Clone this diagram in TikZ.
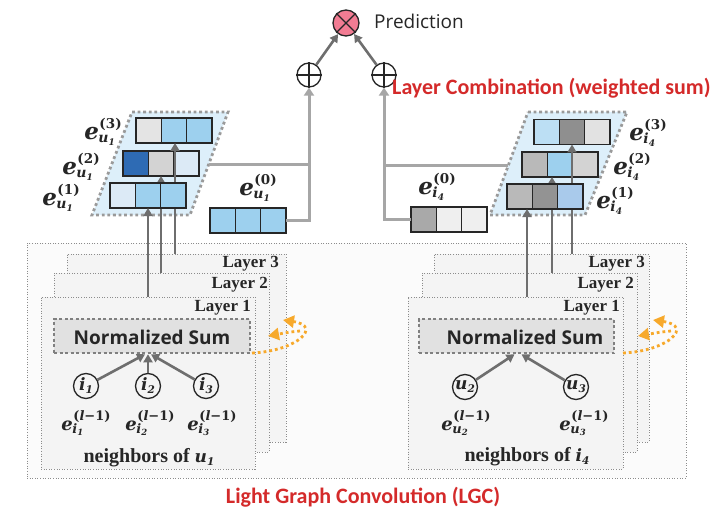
\RequirePackage{fix-cm}
\documentclass[tikz,border=0pt]{standalone}
\usepackage{fontspec}
\usetikzlibrary{arrows.meta,calc,fit}
\newfontfamily\sansf{Open Sans}
\newfontfamily\carl{Carlito}
\newfontfamily\serifb{Liberation Serif}
\newfontfamily\dvs{DejaVu Serif}
\newcommand\dv{\dvs\bfseries\itshape}
\newdimen\labw
% generic label: e, raised superscript, lowered subscript with its own digit
\newcommand\mklab[9]{\hbox{%
  \setbox0=\hbox{\fontsize{#2}{#2}\selectfont\dvs\bfseries #7}%
  \setbox2=\hbox{\fontsize{#3}{#3}\selectfont\dv #8\lower2.5pt\hbox{\fontsize{#4}{#4}\selectfont\dvs\bfseries #9}}%
  \labw=\wd0 \ifdim\wd2>\labw \labw=\wd2 \fi
  \fontsize{#1}{#1}\selectfont\dv e\kern0.5pt
  \rlap{\raise#5\box0}\rlap{\kern-1pt\lower#6\box2}\kern\labw}}
\newcommand\embig[3]{\mklab{23}{13.5}{14}{9}{11pt}{3pt}{(#1)}{#2}{#3}}
\newcommand\emsmall[2]{\mklab{18}{13}{13}{8.5}{10pt}{3pt}{(\textit{l}−1)}{#1}{#2}}
\newcommand\circlab[2]{\hbox{\fontsize{17}{17}\selectfont\dv #1\lower3pt\hbox{\fontsize{10.5}{10.5}\selectfont\dvs\bfseries #2}}}
\definecolor{lb}{HTML}{9DD0EE}
\definecolor{vlb}{HTML}{DCEAF6}
\definecolor{db}{HTML}{2E6BB4}
\definecolor{ga}{HTML}{E4E4E4}
\definecolor{gb}{HTML}{D3D3D3}
\definecolor{rb}{HTML}{BCDFF4}
\definecolor{dg}{HTML}{8F8F8F}
\definecolor{gc}{HTML}{E2E2E2}
\definecolor{mg}{HTML}{B9B9B9}
\definecolor{mgb}{HTML}{939393}
\definecolor{lbb}{HTML}{A9CAEB}
\definecolor{gd}{HTML}{EFEFEF}
\definecolor{mgc}{HTML}{A9A9A9}
\definecolor{stackblue}{HTML}{DDEFFA}
\definecolor{dotgray}{HTML}{9A9A9A}
\definecolor{layerfill}{HTML}{F4F4F4}
\definecolor{outerfill}{HTML}{FBFBFB}
\definecolor{nsfill}{HTML}{E1E1E1}
\definecolor{arrdark}{HTML}{6E6E6E}
\definecolor{arrlight}{HTML}{A6A6A6}
\definecolor{predpink}{HTML}{F27C93}
\definecolor{redtxt}{HTML}{D42A2A}
\definecolor{orng}{HTML}{F7A92B}
\newcommand\emrow[6]{%
  \node[cell,fill=#4] (#1a) at (#2,#3) {};
  \node[cell,fill=#5] (#1b) at (#1a.east) {};
  \node[cell,fill=#6] (#1c) at (#1b.east) {};}
\tikzset{
  cell/.style={draw=black!85, line width=1.3pt, minimum width=25.3pt, minimum height=25pt, inner sep=0pt, outer sep=0pt, anchor=west},
  stackbg/.style={fill=stackblue, draw=dotgray, line width=2.8pt, dash pattern=on 2.8pt off 2.8pt},
  outerbox/.style={draw=black!45, fill=outerfill, line width=0.9pt, dash pattern=on 1pt off 1.6pt, inner sep=0pt},
  layerbox/.style={draw=black!45, fill=layerfill, line width=0.9pt, dash pattern=on 1pt off 1.6pt, inner sep=0pt},
  nsbox/.style={draw=black!50, fill=nsfill, line width=2.6pt, dash pattern=on 3pt off 2.5pt, inner sep=0pt},
  nstext/.style={font=\sansf\bfseries\fontsize{19}{21}\selectfont, text=black!85, inner sep=0pt},
  laylab/.style={font=\serifb\bfseries\fontsize{17}{19}\selectfont, text=black!85, anchor=east, inner sep=0pt},
  neighlab/.style={font=\serifb\bfseries\fontsize{20}{22}\selectfont, text=black!85, inner sep=0pt},
  emlab/.style={text=black!85, inner sep=0pt},
  nb/.style={circle, draw=black!85, line width=1.3pt, minimum size=25pt, inner sep=0pt, text=black!85},
  opl/.style={circle, draw=black!85, line width=1.3pt, minimum size=24pt, inner sep=0pt},
  pred/.style={circle, draw=black!85, fill=predpink, line width=1.3pt, minimum size=26pt, inner sep=0pt},
  darr/.style={draw=arrdark, line width=2.6pt, -{Triangle[length=8pt,width=9pt]}},
  larr/.style={draw=arrlight, line width=3pt, -{Triangle[length=8pt,width=10pt]}},
  lline/.style={draw=arrlight, line width=3pt},
  orarr/.style={draw=orng, line width=2.8pt, dash pattern=on 2.8pt off 3pt, -{Triangle[length=11pt,width=12pt]}},
  redlab/.style={font=\carl\bfseries\fontsize{22}{24}\selectfont, text=redtxt, inner sep=0pt},
}
\begin{document}
\begin{tikzpicture}[x=1pt,y=-1pt]
\useasboundingbox (0,0) rectangle (720,516);
% ---------- outer LGC box and layer stacks
\node[outerbox, fit={(27,243) (686,478)}] (outer) {};
\node[layerbox, fit={(67,254) (286,442)}] (LL3) {};
\node[layerbox, fit={(54,273) (269,452)}] (LL2) {};
\node[layerbox, fit={(41,297) (255,469)}] (LL1) {};
\node[layerbox, fit={(434,254) (649,442)}] (RL3) {};
\node[layerbox, fit={(422,273) (637,452)}] (RL2) {};
\node[layerbox, fit={(408,297) (623,469)}] (RL1) {};
\node[laylab] (tl3) at (279,264) {Layer 3};
\node[laylab] (tl2) at (268,285) {Layer 2};
\node[laylab] (tl1) at (251,308) {Layer 1};
\node[laylab] (tr3) at (645,264) {Layer 3};
\node[laylab] (tr2) at (634,285) {Layer 2};
\node[laylab] (tr1) at (620,308) {Layer 1};
% normalized sum boxes
\node[nsbox, minimum width=196pt, minimum height=34pt] (NSL) at (152,336) {};
\node[nstext] (NSLt) at (152,337) {Normalized Sum};
\node[nsbox, minimum width=195pt, minimum height=34pt] (NSR) at (516.5,336) {};
\node[nstext] (NSRt) at (525,337) {Normalized Sum};
% neighbor nodes
\node[nb] (i1) at (86,386) {\circlab{i}{1}};
\node[nb] (i2) at (148,386) {\circlab{i}{2}};
\node[nb] (i3) at (206,386) {\circlab{i}{3}};
\node[nb] (u2) at (465,387) {\circlab{u}{2}};
\node[nb] (u3) at (576,387) {\circlab{u}{3}};
\draw[darr] (i1) -- ($(NSL.south)+(-7,0)$);
\draw[darr] (i2) -- (i2 |- NSL.south);
\draw[darr] (i3) -- ($(NSL.south)+(-1,0)$);
\draw[darr] (u2) -- ($(NSR.south)+(-2,0)$);
\draw[darr] (u3) -- ($(NSR.south)+(5,0)$);
\node[emlab] (ei1) at (86,423) {\emsmall{i}{1}};
\node[emlab] (ei2) at (150,423) {\emsmall{i}{2}};
\node[emlab] (ei3) at (212,423) {\emsmall{i}{3}};
\node[emlab] (eu2) at (466,423) {\emsmall{u}{2}};
\node[emlab] (eu3) at (584,423) {\emsmall{u}{3}};
\node[neighlab] (nu) at (149,458) {neighbors of \circlab{u}{1}};
\node[neighlab] (ni) at (527,457) {neighbors of \circlab{i}{4}};
% orange propagation arrows
\coordinate (oLa) at (252,353);
\coordinate (oLb) at (283,320);
\coordinate (oLc) at (300,331);
\coordinate (oLd) at (268,336);
\draw[orarr] (oLa) .. controls (297,351) and (323,326) .. (oLb);
\draw[orarr] (oLc) .. controls (290,332) .. (oLd);
\coordinate (oRa) at (623,353);
\coordinate (oRb) at (653,320);
\coordinate (oRc) at (671,331);
\coordinate (oRd) at (638,336);
\draw[orarr] (oRa) .. controls (668,351) and (694,326) .. (oRb);
\draw[orarr] (oRc) .. controls (661,332) .. (oRd);
% ---------- stacked embeddings (left)
\draw[stackbg] (132,112) -- (228,112) -- (190,215) -- (92,215) -- cycle;
\coordinate (aL1) at (148,297);
\coordinate (aL2) at (161,273);
\coordinate (aL3) at (175,254);
\coordinate (aR1) at (527,297);
\coordinate (aR2) at (552,273);
\coordinate (aR3) at (572,254);
\emrow{Lr3}{136}{130.5}{ga}{lb}{lb}
\emrow{Lr2}{123}{163.5}{db}{gb}{vlb}
\draw[darr] (aL3) -- (aL3 |- Lr3b.south);
\draw[darr] (aL2) -- (aL2 |- Lr2b.south);
\emrow{Lr1}{110}{195.5}{vlb}{lb}{lb}
\draw[darr] (aL1) -- (aL1 |- Lr1b.south);
\node[emlab] (lL3) at (103,132) {\embig{3}{u}{1}};
\node[emlab] (lL2) at (81,167) {\embig{2}{u}{1}};
\node[emlab] (lL1) at (61,198) {\embig{1}{u}{1}};
% ---------- stacked embeddings (right)
\draw[stackbg] (528,112) -- (627,112) -- (585,215) -- (490,215) -- cycle;
\emrow{Rr3}{534}{132}{rb}{dg}{gc}
\emrow{Rr2}{522}{164.5}{mg}{lb}{gb}
\draw[darr] (aR3) -- (aR3 |- Rr3b.south);
\draw[darr] (aR2) -- (aR2 |- Rr2b.south);
\emrow{Rr1}{507}{196.5}{mg}{mgb}{lbb}
\draw[darr] (aR1) -- (aR1 |- Rr1a.south);
\node[emlab] (lR3) at (648,133) {\embig{3}{i}{4}};
\node[emlab] (lR2) at (632,167) {\embig{2}{i}{4}};
\node[emlab] (lR1) at (615,201) {\embig{1}{i}{4}};
% ---------- layer-0 embeddings
\emrow{E0L}{210}{220.5}{lb}{lb}{lb}
\emrow{E0R}{411}{219.5}{mgc}{gd}{gd}
\node[emlab] (l0L) at (258,188) {\embig{0}{u}{1}};
\node[emlab] (l0R) at (437,187) {\embig{0}{i}{4}};
% ---------- layer combination and prediction
\node[opl] (pL) at (309,75) {};
\draw[black!85, line width=1.3pt] (pL.north) -- (pL.south) (pL.west) -- (pL.east);
\node[opl] (pR) at (384,75) {};
\draw[black!85, line width=1.3pt] (pR.north) -- (pR.south) (pR.west) -- (pR.east);
\node[pred] (P) at (346,23) {};
\draw[black!85, line width=1.3pt] (P.north east) -- (P.south west) (P.north west) -- (P.south east);
\node[font=\sansf\fontsize{19}{21}\selectfont, text=black!85, anchor=west, inner sep=0pt] (Ptxt) at (374,21) {Prediction};
\draw[larr] (E0Lc.east) -| (pL.south);
\coordinate (sL) at (209,164);
\draw[lline] (sL) -- (sL -| pL);
\draw[larr] (E0Ra.west) -| (pR.south);
\coordinate (sR) at (508,165);
\draw[lline] (sR) -- (sR -| pR);
\draw[darr] (pL) -- (P);
\draw[darr] (pR) -- (P);
\node[redlab, anchor=west] (lc) at (392,88) {Layer Combination (weighted sum)};
\node[redlab] (lgc) at (363,497) {Light Graph Convolution (LGC)};
\end{tikzpicture}
\end{document}
